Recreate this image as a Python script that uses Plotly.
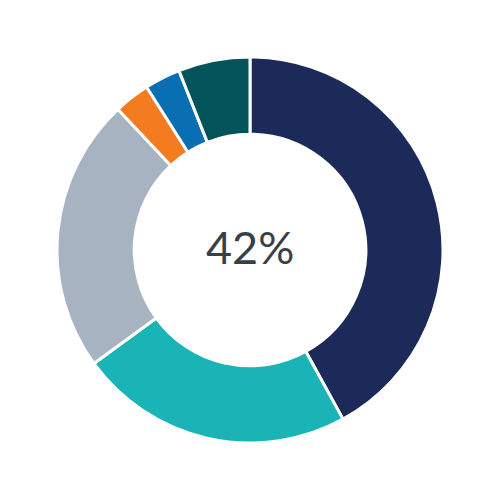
import plotly.graph_objects as go

# donut slices, clockwise from 12 o'clock
labels = ["A", "B", "C", "D", "E", "F"]
values = [42, 23, 23, 3, 3, 6]
colors = ["#1c2a5a", "#1ab4b6", "#a8b3c2", "#f37c21", "#0a6fb2", "#02545a"]
center_text = "42%"

fig = go.Figure()
fig.add_trace(go.Pie(
    labels=labels,
    values=values,
    hole=0.6,
    sort=False,
    direction="clockwise",
    rotation=0,
    textinfo="none",
    hoverinfo="label+percent",
    marker=dict(colors=colors, line=dict(color="white", width=3)),
    showlegend=False,
))

fig.add_annotation(
    text=center_text, x=0.5, y=0.5, xref="paper", yref="paper", yshift=3,
    showarrow=False, font=dict(family="Lato", size=45, color="#3a3f47"),
)

# page sits 8px in from the corner, so margins are offset to centre the ring
fig.update_layout(
    width=500, height=500,
    margin=dict(l=49, r=65, t=49, b=65),
    paper_bgcolor="white", plot_bgcolor="white",
)

fig.write_html("out.html")
